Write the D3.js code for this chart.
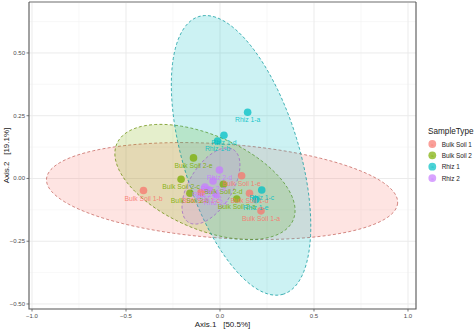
<!DOCTYPE html>
<html><head><meta charset="utf-8">
<script src="https://cdn.jsdelivr.net/npm/d3@7"></script>
<style>body{margin:0;background:#fff}svg{display:block;font-family:"Liberation Sans",Arial,sans-serif}</style>
</head><body><svg id="c" width="474" height="330"></svg>
<script>
// ---- data ----
const groups = ["Bulk Soil 1","Bulk Soil 2","Rhiz 1","Rhiz 2"];
const colors = ["#F8766D","#7CAE00","#00BFC4","#C77CFF"];
const sampleNames = [
  ["Bulk Soil 1-a","Bulk Soil 1-b","Bulk Soil 1-c","Bulk Soil 1-d","Bulk Soil 1-e"],
  ["Bulk Soil 2-a","Bulk Soil 2-b","Bulk Soil 2-c","Bulk Soil 2-d","Bulk Soil 2-e"],
  ["Rhiz 1-a","Rhiz 1-b","Rhiz 1-c","Rhiz 1-d","Rhiz 1-e"],
  ["Rhiz 2-a","Rhiz 2-b","Rhiz 2-c","Rhiz 2-d","Rhiz 2-e"]
];
const axis1 = [
  [0.218,-0.407,-0.101,0.157,0.115],
  [0.089,-0.160,-0.207,0.018,-0.141],
  [0.147,-0.013,0.222,0.021,0.191],
  [-0.037,-0.080,-0.021,-0.003,-0.059]
];
const axis2 = [
  [-0.129,-0.048,-0.056,-0.059,0.011],
  [-0.082,-0.059,-0.003,-0.023,0.082],
  [0.264,0.149,-0.046,0.172,-0.084],
  [-0.010,-0.034,-0.064,0.034,-0.046]
];
// ellipse: centre and two conjugate half-axis vectors (data units)
const ellCx = [0.011,-0.080,0.112,-0.048];
const ellCy = [-0.050,-0.014,0.092,-0.030];
const ellU  = [[0.934,-0.048],[0.469,-0.152],[0.225,-0.553],[0.119,0.145]];
const ellV  = [[-0.017,-0.187],[-0.099,-0.172],[-0.295,-0.068],[0.098,-0.045]];
const xTicks = [-1.0,-0.5,0.0,0.5,1.0];
const yTicks = [-0.50,-0.25,0.00,0.25,0.50];
const xTitle = "Axis.1   [50.5%]";
const yTitle = "Axis.2   [19.1%]";
const legendTitle = "SampleType";

// ---- layout ----
const svg = d3.select("#c");
const L=29, R=416, T=2, B=309;
const x = d3.scaleLinear().domain([-1.016,1.0426]).range([L,R]);
const y = d3.scaleLinear().domain([-0.520,0.703]).range([B,T]);

// grid
const g = svg.append("g");
const xMinor = [-0.75,-0.25,0.25,0.75];
const yMinor = [-0.375,-0.125,0.125,0.375,0.625];
g.selectAll(".xm").data(xMinor).join("line").attr("x1",d=>x(d)).attr("x2",d=>x(d)).attr("y1",T).attr("y2",B).attr("stroke","#f4f4f4").attr("stroke-width",0.6);
g.selectAll(".ym").data(yMinor).join("line").attr("y1",d=>y(d)).attr("y2",d=>y(d)).attr("x1",L).attr("x2",R).attr("stroke","#f4f4f4").attr("stroke-width",0.6);
g.selectAll(".xM").data(xTicks).join("line").attr("x1",d=>x(d)).attr("x2",d=>x(d)).attr("y1",T).attr("y2",B).attr("stroke","#ebebeb").attr("stroke-width",1);
g.selectAll(".yM").data(yTicks).join("line").attr("y1",d=>y(d)).attr("y2",d=>y(d)).attr("x1",L).attr("x2",R).attr("stroke","#ebebeb").attr("stroke-width",1);

// ellipses
const ts = d3.range(0,361,3).map(a=>a*Math.PI/180);
const line = d3.line().x(d=>x(d[0])).y(d=>y(d[1])).curve(d3.curveLinearClosed);
groups.forEach((gname,i)=>{
  const pts = ts.map(t=>[ellCx[i]+ellU[i][0]*Math.cos(t)+ellV[i][0]*Math.sin(t),
                         ellCy[i]+ellU[i][1]*Math.cos(t)+ellV[i][1]*Math.sin(t)]);
  svg.append("path").attr("d",line(pts)).attr("fill",colors[i]).attr("fill-opacity",0.2)
    .attr("stroke",d3.color(colors[i]).darker(0.7)).attr("stroke-opacity",0.8)
    .attr("stroke-width",0.9).attr("stroke-dasharray","3,2.2");
});

// points
const pts = [];
groups.forEach((gname,i)=>axis1[i].forEach((v,j)=>pts.push({g:i,x:v,y:axis2[i][j],n:sampleNames[i][j]})));
svg.selectAll(".pt").data(pts).join("circle").attr("cx",d=>x(d.x)).attr("cy",d=>y(d.y)).attr("r",3.8)
  .attr("fill",d=>colors[d.g]).attr("fill-opacity",0.75);
svg.selectAll(".lb").data(pts).join("text").attr("x",d=>x(d.x)).attr("y",d=>y(d.y)+7.6)
  .attr("text-anchor","middle").attr("dominant-baseline","central").attr("font-size",6.8)
  .attr("fill",d=>colors[d.g]).attr("fill-opacity",0.9).text(d=>d.n);

// border
svg.append("line").attr("x1",L).attr("x2",R).attr("y1",T).attr("y2",T).attr("stroke","#b5b5b5").attr("stroke-width",2);
svg.append("path").attr("d",`M${L},${T}V${B}H${R}V${T}`).attr("fill","none").attr("stroke","#555").attr("stroke-width",1.1);

// axes ticks
svg.selectAll(".xt").data(xTicks).join("line").attr("x1",d=>x(d)).attr("x2",d=>x(d)).attr("y1",B).attr("y2",B+2.5).attr("stroke","#555").attr("stroke-width",0.8);
svg.selectAll(".yt").data(yTicks).join("line").attr("y1",d=>y(d)).attr("y2",d=>y(d)).attr("x1",L-2.5).attr("x2",L).attr("stroke","#555").attr("stroke-width",0.8);
svg.selectAll(".xl").data(xTicks).join("text").attr("x",d=>x(d)).attr("y",B+6.5).attr("dominant-baseline","central")
  .attr("text-anchor","middle").attr("font-size",6).attr("fill","#4d4d4d").text(d=>d3.format(".1f")(d));
svg.selectAll(".yl").data(yTicks).join("text").attr("x",L-4).attr("y",d=>y(d)).attr("dominant-baseline","central")
  .attr("text-anchor","end").attr("font-size",6).attr("fill","#4d4d4d").text(d=>d3.format(".2f")(d));
svg.append("text").attr("x",(L+R)/2).attr("y",324).attr("dominant-baseline","central").attr("text-anchor","middle")
  .attr("font-size",8).attr("fill","#222").attr("xml:space","preserve").style("white-space","pre").text(xTitle);
svg.append("text").attr("transform",`translate(6,${(T+B)/2}) rotate(-90)`).attr("dominant-baseline","central").attr("text-anchor","middle")
  .attr("font-size",8).attr("fill","#222").style("white-space","pre").text(yTitle);

// legend
const lg = svg.append("g");
lg.append("text").attr("x",428).attr("y",131.5).attr("dominant-baseline","central").attr("font-size",8.2).attr("fill","#222").text(legendTitle);
groups.forEach((gname,i)=>{
  const ky = 144 + i*11.35;
  lg.append("circle").attr("cx",432.3).attr("cy",ky).attr("r",3.9).attr("fill",colors[i]).attr("fill-opacity",0.7);
  lg.append("text").attr("x",432.3).attr("y",ky).attr("text-anchor","middle").attr("dominant-baseline","central").attr("font-size",4).attr("fill",colors[i]).attr("fill-opacity",0.8).text("a");
  lg.append("text").attr("x",441.7).attr("y",ky).attr("dominant-baseline","central").attr("font-size",6.4).attr("fill","#222").text(gname);
});
</script></body></html>
